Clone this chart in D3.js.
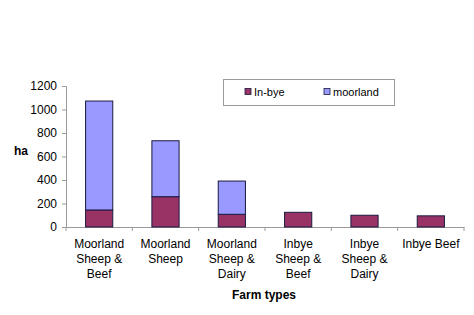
<!DOCTYPE html>
<html>
<head>
<meta charset="utf-8">
<script src="https://cdn.jsdelivr.net/npm/d3@7"></script>
<style>
  body { margin: 0; background: #fff; }
  text { font-family: "Liberation Sans", Arial, sans-serif; }
</style>
</head>
<body>
<svg id="chart" width="474" height="315"></svg>
<script>
// farm types and the two land components (ha)
const categories = [
  ['Moorland', 'Sheep &', 'Beef'],
  ['Moorland', 'Sheep'],
  ['Moorland', 'Sheep &', 'Dairy'],
  ['Inbye', 'Sheep &', 'Beef'],
  ['Inbye', 'Sheep &', 'Dairy'],
  ['Inbye Beef']
];
const inbye = [145, 258, 108, 125, 100, 95];
const moorland = [927, 476, 283, 0, 0, 0];
const yTicks = [0, 200, 400, 600, 800, 1000, 1200];
const seriesNames = ['In-bye', 'moorland'];
const colours = ['#993366', '#9999ff'];

const svg = d3.select('#chart');
const plotLeft = 66;
const plotRight = 464;
const plotTop = 86;
const plotBottom = 227;

const x = d3.scaleBand().domain(d3.range(categories.length)).range([plotLeft, plotRight]).paddingInner(0.59).paddingOuter(0.295);
const y = d3.scaleLinear().domain([0, 1200]).range([plotBottom, plotTop]);

const rows = categories.map((c, i) => ({ i, inbye: inbye[i], moorland: moorland[i] }));
const stacked = d3.stack().keys(['inbye', 'moorland'])(rows);

// axes
const yAxis = svg.append('g')
  .attr('transform', `translate(${plotLeft},0)`)
  .call(d3.axisLeft(y).tickValues(yTicks).tickFormat(d3.format('d')).tickSize(4).tickPadding(5));
const xAxis = svg.append('g')
  .attr('transform', `translate(0,${plotBottom})`)
  .call(d3.axisBottom(x).tickValues([]).tickSizeOuter(0));
[yAxis, xAxis].forEach((ax) => {
  ax.select('.domain').attr('stroke', '#9a9a9a');
  ax.selectAll('.tick line').attr('stroke', '#9a9a9a');
  ax.selectAll('text').attr('font-size', 12).attr('fill', '#000').attr('font-family', '"Liberation Sans", Arial, sans-serif');
});
// category boundary ticks on the x axis
const step = x.step();
xAxis.selectAll('line.bound')
  .data(d3.range(categories.length + 1))
  .join('line')
  .attr('class', 'bound')
  .attr('x1', (d) => plotLeft + d * step)
  .attr('x2', (d) => plotLeft + d * step)
  .attr('y1', 0)
  .attr('y2', 4)
  .attr('stroke', '#9a9a9a');

// bars
svg.append('g').selectAll('g')
  .data(stacked)
  .join('g')
  .attr('fill', (d, k) => colours[k])
  .selectAll('rect')
  .data((d) => d.filter((p) => p[1] > p[0]))
  .join('rect')
  .attr('x', (p) => x(p.data.i))
  .attr('width', x.bandwidth())
  .attr('y', (p) => y(p[1]))
  .attr('height', (p) => y(p[0]) - y(p[1]))
  .attr('stroke', '#1a1a40')
  .attr('stroke-width', 1);

// category labels
const catLabels = svg.append('g').selectAll('text')
  .data(categories)
  .join('text')
  .attr('x', (d, i) => x(i) + x.bandwidth() / 2)
  .attr('y', 248)
  .attr('text-anchor', 'middle')
  .attr('font-size', 12);
catLabels.selectAll('tspan')
  .data((d) => d)
  .join('tspan')
  .attr('x', function () { return this.parentNode.getAttribute('x'); })
  .attr('dy', (d, j) => (j === 0 ? 0 : 15))
  .text((d) => d);

// axis titles
svg.append('text')
  .attr('x', 264)
  .attr('y', 299)
  .attr('text-anchor', 'middle')
  .attr('font-size', 12)
  .attr('font-weight', 'bold')
  .text('Farm types');
svg.append('text')
  .attr('x', 21)
  .attr('y', 155)
  .attr('text-anchor', 'middle')
  .attr('font-size', 12)
  .attr('font-weight', 'bold')
  .text('ha');

// legend
const legend = svg.append('g');
legend.append('rect')
  .attr('x', 223.5)
  .attr('y', 79.5)
  .attr('width', 171)
  .attr('height', 26)
  .attr('fill', '#fff')
  .attr('stroke', '#9a9a9a');
const items = legend.selectAll('g.item')
  .data(seriesNames)
  .join('g')
  .attr('class', 'item')
  .attr('transform', (d, k) => `translate(${246 + k * 79},92)`);
items.append('rect')
  .attr('x', -1)
  .attr('y', -3.5)
  .attr('width', 6)
  .attr('height', 6)
  .attr('fill', (d, k) => colours[k])
  .attr('stroke', '#1a1a40')
  .attr('stroke-width', 0.8);
items.append('text')
  .attr('x', 8)
  .attr('y', 4)
  .attr('font-size', 11)
  .text((d) => d);
</script>
</body>
</html>
